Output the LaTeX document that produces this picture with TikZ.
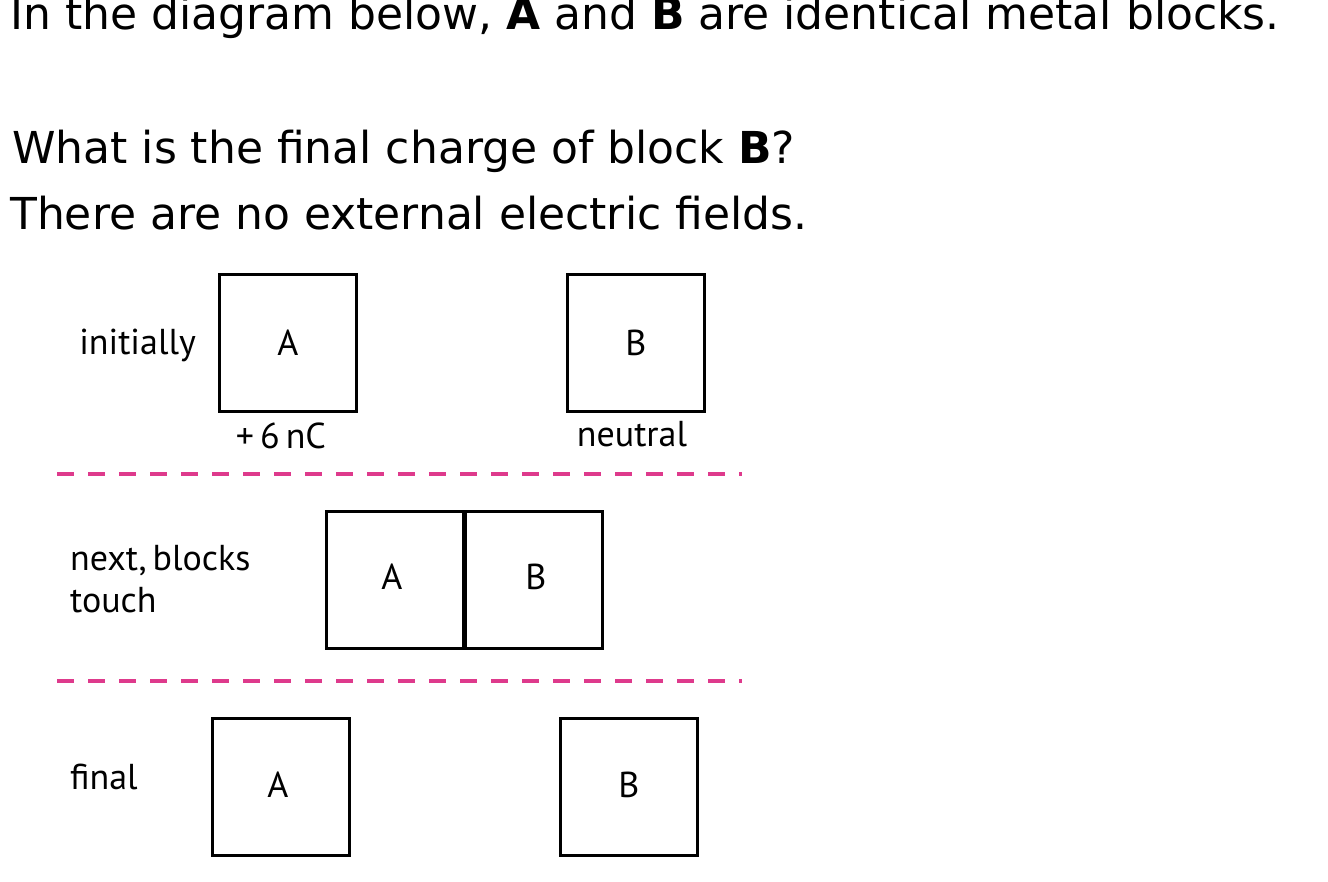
\documentclass[tikz,border=0pt]{standalone}
\usepackage{fontspec}
\setmainfont{DejaVu Sans}
\newfontfamily\lab{PT Sans}
\begin{document}
\begin{tikzpicture}[x=1pt,y=-1pt,
  blk/.style={draw,line width=3pt,minimum width=137pt,minimum height=137pt,anchor=north west,inner sep=0pt},
  head/.style={anchor=base west,inner sep=0pt,font=\fontsize{44}{52}\selectfont},
  lb/.style={inner sep=0pt,font=\lab\fontsize{36}{42}\selectfont},
  sep/.style={line width=4.5pt,draw={rgb,255:red,222;green,58;blue,140},dash pattern=on 17pt off 14pt}]
\useasboundingbox (0,0) rectangle (1328,882);
\node[head] (h1) at (10,30) {In the diagram below, \textbf{A} and \textbf{B} are identical metal blocks.};
\node[head] (h2) at (12,164) {What is the final charge of block \textbf{B}?};
\node[head] (h3) at (10,230) {There are no external electric fields.};
% row 1
\node[blk] (a1) at (218,273) {};
\node[blk] (b1) at (566,273) {};
\node[lb] at (a1.center) {A};
\node[lb] at (b1.center) {B};
\node[lb,anchor=east] (l1) at (196,345) {initially};
\node[lb] (c1) at (281,436) {+\,6\,nC};
\node[lb] (n1) at (632,434) {neutral};
\coordinate (d1s) at (57,474); \coordinate (d1e) at (742,474);
\draw[sep] (d1s) -- (d1e);
% row 2
\node[blk] (a2) at (325,510) {};
\node[blk] (b2) at (464,510) {};
\node[lb] at (392,577) {A};
\node[lb] at (536,577) {B};
\node[lb,anchor=west,align=left] (l2) at (70,579) {next,\,blocks\\touch};
\coordinate (d2s) at (57,681); \coordinate (d2e) at (742,681);
\draw[sep] (d2s) -- (d2e);
% row 3
\node[blk] (a3) at (211,717) {};
\node[blk] (b3) at (559,717) {};
\node[lb] at (278,785) {A};
\node[lb] at (629,785) {B};
\node[lb,anchor=west] (l3) at (70,777) {final};
\end{tikzpicture}
\end{document}
